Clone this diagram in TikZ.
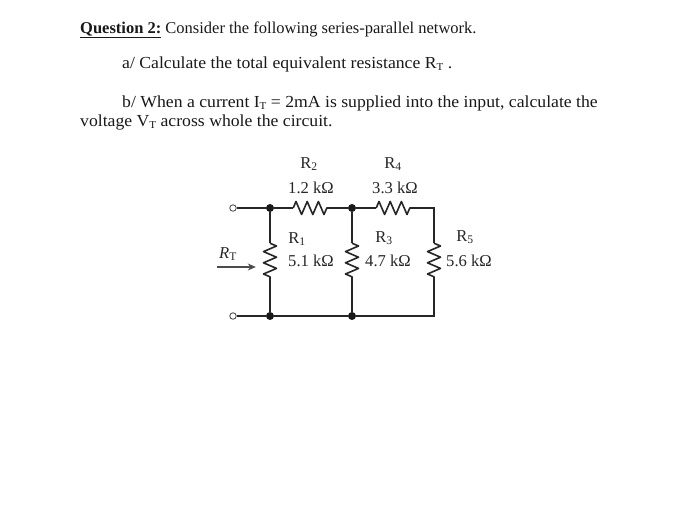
\documentclass[tikz,border=0pt]{standalone}
\usepackage{fontspec}
\usetikzlibrary{decorations.pathmorphing,arrows.meta}
\setmainfont{Liberation Serif}
\newfontfamily\bodyfont[FakeStretch=1.05]{Liberation Serif}
\newcommand{\lowT}{\raisebox{-0.12em}{\fontsize{10.5}{12}\selectfont T}}
\tikzset{
  wire/.style={line width=1.6pt,black!85},
  res/.style={wire,line join=round,decorate,decoration={zigzag,segment length=11.2pt,amplitude=6.5pt}},
  dot/.style={circle,fill=black!90,draw=none,minimum size=8pt,inner sep=0pt},
  term/.style={circle,draw=black!75,fill=white,line width=0.8pt,minimum size=6.5pt,inner sep=0pt},
  pt/.style={inner sep=0pt,minimum size=0pt},
  lbl/.style={inner sep=0pt,font=\fontsize{16.6}{18}\selectfont,text=black!85},
  txt/.style={inner sep=0pt,anchor=base west,text=black!90,font=\fontsize{16.5}{18}\selectfont},
  body/.style={inner sep=0pt,anchor=base west,text=black!90,font=\bodyfont\fontsize{16.85}{18}\selectfont},
}
\begin{document}
\begin{tikzpicture}[x=1pt,y=-1pt]
\useasboundingbox[fill=white] (0,0) rectangle (700,523);
\node[txt] (q) at (80,33) {\textbf{\underline{Question 2:}} Consider the following series-parallel network.};
\node[body] (a) at (122,68) {a/ Calculate the total equivalent resistance R\lowT\ .};
\node[body] (b) at (122,107) {b/ When a current I\lowT\ = 2mA is supplied into the input, calculate the};
\node[body] (c) at (80,126) {voltage V\lowT\ across whole the circuit.};
% nodes
\node[term] (t1) at (233,208) {};
\node[term] (t2) at (233,316) {};
\node[dot] (j1) at (270,208) {};
\node[dot] (j2) at (352,208) {};
\node[dot] (j3) at (270,316) {};
\node[dot] (j4) at (352,316) {};
\node[pt] (c1) at (434,208) {};
\node[pt] (c2) at (434,316) {};
\node[pt] (r2a) at (293,208) {}; \node[pt] (r2b) at (327,208) {};
\node[pt] (r4a) at (376,208) {}; \node[pt] (r4b) at (410,208) {};
\node[pt] (r1a) at (270,243) {}; \node[pt] (r1b) at (270,277) {};
\node[pt] (r3a) at (352,243) {}; \node[pt] (r3b) at (352,277) {};
\node[pt] (r5a) at (434,243) {}; \node[pt] (r5b) at (434,277) {};
% wires
\draw[wire] (t1) -- (j1) -- (r2a);
\draw[wire] (r2b) -- (j2) -- (r4a);
\draw[wire,line join=miter] (r4b.center) -- (c1.center) -- (r5a.center);
\draw[wire,line join=miter] (t2) -- (j3) -- (j4) -- (c2.center) -- (r5b.center);
\draw[wire] (j1) -- (r1a); \draw[wire] (r1b) -- (j3);
\draw[wire] (j2) -- (r3a); \draw[wire] (r3b) -- (j4);
\draw[res] (r2a) -- (r2b);
\draw[res] (r4a) -- (r4b);
\draw[res] (r1a) -- (r1b);
\draw[res] (r3a) -- (r3b);
\draw[res] (r5a) -- (r5b);
% labels
\node[lbl] (l2) at (309,164) {R\textsubscript{2}};
\node[lbl] (v2) at (311,188) {1.2 kΩ};
\node[lbl] (l4) at (393,164) {R\textsubscript{4}};
\node[lbl] (v4) at (395,188) {3.3 kΩ};
\node[lbl] (l1) at (297,239) {R\textsubscript{1}};
\node[lbl] (v1) at (311,261) {5.1 kΩ};
\node[lbl] (l3) at (384,238) {R\textsubscript{3}};
\node[lbl] (v3) at (388,261) {4.7 kΩ};
\node[lbl] (l5) at (465,237) {R\textsubscript{5}};
\node[lbl] (v5) at (469,261) {5.6 kΩ};
\node[lbl] (rt) at (228,254) {\textit{R}\textsubscript{T}};
\node[pt] (ra) at (217,267) {};
\node[pt] (rb) at (256,267) {};
\draw[-{Stealth[length=8pt,width=7pt]},line width=1.1pt,black!70] (ra) -- (rb);
\end{tikzpicture}
\end{document}
